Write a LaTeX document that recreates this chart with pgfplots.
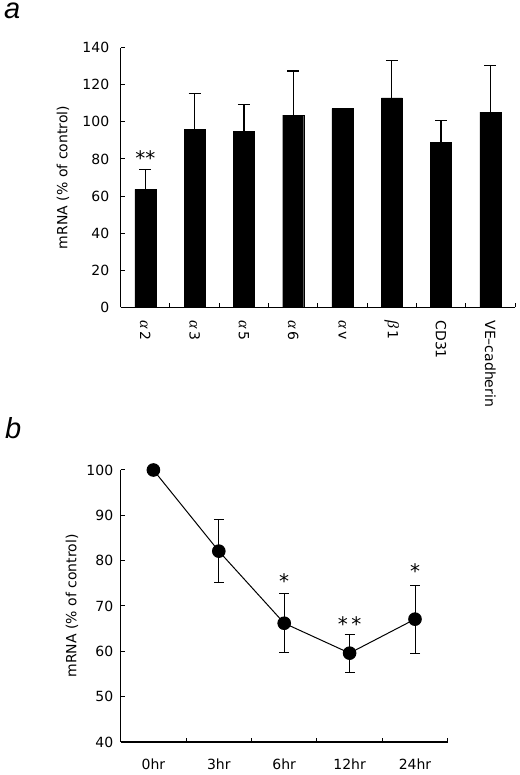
\documentclass[border=0pt]{standalone}
\usepackage{fontspec}
\setmainfont{DejaVu Sans}
\newfontfamily\greek{Liberation Serif}
\newfontfamily\lab{Liberation Sans}
\usepackage{pgfplots}
\pgfplotsset{compat=1.18}
\newcommand{\lf}{\fontsize{14bp}{17bp}\selectfont}
\newcommand{\starfont}{\fontsize{20bp}{20bp}\selectfont}
\newcommand{\ga}{{\greek\itshape\fontsize{16bp}{17bp}\selectfont α}}
\newcommand{\gb}{{\greek\itshape\fontsize{16bp}{17bp}\selectfont β}}
\pgfplotsset{
  every axis/.append style={font=\lf},
  every tick label/.append style={font=\lf},
  every axis label/.append style={font=\lf},
}
\begin{document}
\begin{tikzpicture}[font=\lf]
\path[use as bounding box] (0bp,0bp) rectangle (520bp,775bp);
\node[anchor=base west, font=\lab\fontsize{29bp}{29bp}\selectfont\itshape, inner sep=0] at (4bp,756.7bp) {a};
\node[anchor=base west, font=\lab\fontsize{29bp}{29bp}\selectfont\itshape, inner sep=0] at (5bp,336bp) {b};
\begin{axis}[
  at={(120.7bp,467.7bp)}, anchor=south west,
  width=394.3bp, height=259.6bp, scale only axis,
  axis lines=left, axis line style={-, line width=1.2bp},
  xmin=-0.5, xmax=7.5, ymin=0, ymax=140,
  ytick={0,20,...,140},
  xtick={0,...,7},
  xticklabels={{\ga\,2},{\ga\,3},{\ga\,5},{\ga\,6},{\ga\,v},{\gb\,1},CD31,VE--cadherin},
  minor xtick={0.5,1.5,...,7.5},
  major x tick style={draw=none},
  tick style={black, line width=1bp},
  major tick length=4bp, minor tick length=4bp,
  tick align=inside,
  /pgf/number format/assume math mode=true,
  yticklabel style={xshift=-8bp},
  xticklabel style={rotate=-90, anchor=west, inner sep=0pt, xshift=13bp},
  ylabel={mRNA (\% of control)},
  every axis y label/.style={at={(axis description cs:0,0.5)}, xshift=-57.7bp, rotate=90, anchor=center},
  clip=false,
]
\addplot[ybar, bar width=21bp, fill=black, draw=black,
  error bars/.cd, y dir=plus, y explicit,
  error bar style={line width=1.2bp, black},
  error mark options={rotate=90, mark size=6bp, line width=1.2bp, black}]
  coordinates {
  (0,63.6) +- (0,10.8)
  (1,96.0) +- (0,19.2)
  (2,95.0) +- (0,14.2)
  (3,103.7) +- (0,23.7)
  (4,107.1) +- (0,0)
  (5,113.0) +- (0,20.2)
  (6,89.1) +- (0,11.7)
  (7,105.3) +- (0,25.2)
  };
\node[font=\starfont] at (axis cs:0,80.3) {**};
\end{axis}
\begin{axis}[
  at={(120.7bp,33bp)}, anchor=south west,
  width=327bp, height=272bp, scale only axis,
  axis lines=left, axis line style={-, line width=1.2bp},
  xmin=-0.5, xmax=4.5, ymin=40, ymax=100,
  ytick={40,50,...,100},
  xtick={0,...,4},
  xticklabels={0hr,3hr,6hr,12hr,24hr},
  minor xtick={0.5,1.5,...,4.5},
  major x tick style={draw=none},
  tick style={black, line width=1bp},
  major tick length=4bp, minor tick length=4bp,
  tick align=inside,
  /pgf/number format/assume math mode=true,
  yticklabel style={xshift=-4bp},
  xticklabel style={yshift=-13bp},
  ylabel={mRNA (\% of control)},
  every axis y label/.style={at={(axis description cs:0,0.5)}, xshift=-48.7bp, rotate=90, anchor=center},
  clip=false,
]
\addplot[black, line width=1bp, mark=*, mark size=6.3bp, mark options={fill=black, solid},
  error bars/.cd, y dir=both, y explicit,
  error bar style={line width=1bp, black},
  error mark options={rotate=90, mark size=5bp, line width=1bp, black}]
  coordinates {
  (0,100) +- (0,0)
  (1,82.1) +- (0,7.0)
  (2,66.2) +- (0,6.5)
  (3,59.6) +- (0,4.2)
  (4,67.1) +- (0,7.5)
  };
\node[font=\starfont] at (axis cs:2,75.5) {*};
\node[font=\starfont] at (axis cs:3,66.1) {*\,*};
\node[font=\starfont] at (axis cs:4,77.8) {*};
\end{axis}
\end{tikzpicture}
\end{document}
